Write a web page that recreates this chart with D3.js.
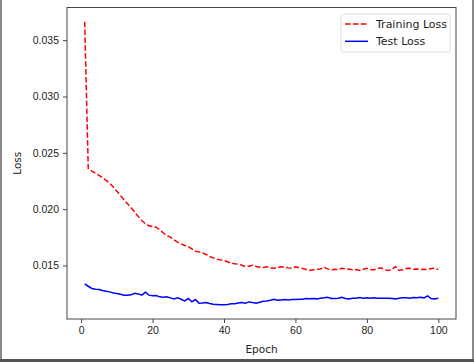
<!DOCTYPE html>
<html>
<head>
<meta charset="utf-8">
<script src="https://cdn.jsdelivr.net/npm/d3@7"></script>
<style>
  body { margin: 0; background: #fff; }
  svg { display: block; font-family: "DejaVu Sans", sans-serif; }
  .axis text { font-size: 10.5px; fill: #222; }
  .axis path, .axis line { stroke: #444; }
</style>
</head>
<body>
<div id="chart"></div>
<script>
// Loss per epoch
var epochs = d3.range(1, 101);

var trainLoss = [
  0.03664, 0.02358, 0.02338, 0.02320, 0.02300, 0.02279, 0.02255, 0.02231, 0.02196, 0.02160,
  0.02122, 0.02083, 0.02048, 0.02012, 0.01974, 0.01935, 0.01900, 0.01870, 0.01852, 0.01846,
  0.01840, 0.01817, 0.01790, 0.01766, 0.01752, 0.01728, 0.01707, 0.01692, 0.01678, 0.01669,
  0.01648, 0.01627, 0.01621, 0.01612, 0.01598, 0.01580, 0.01568, 0.01556, 0.01550, 0.01544,
  0.01533, 0.01521, 0.01515, 0.01512, 0.01503, 0.01491, 0.01494, 0.01503, 0.01491, 0.01485,
  0.01482, 0.01488, 0.01479, 0.01476, 0.01482, 0.01488, 0.01485, 0.01479, 0.01476, 0.01488,
  0.01482, 0.01473, 0.01464, 0.01456, 0.01462, 0.01467, 0.01470, 0.01485, 0.01470, 0.01462,
  0.01467, 0.01464, 0.01476, 0.01470, 0.01467, 0.01462, 0.01464, 0.01456, 0.01467, 0.01476,
  0.01464, 0.01462, 0.01473, 0.01479, 0.01462, 0.01456, 0.01462, 0.01491, 0.01456, 0.01462,
  0.01473, 0.01476, 0.01467, 0.01470, 0.01464, 0.01467, 0.01462, 0.01473, 0.01476, 0.01464
];

var testLoss = [
  0.01337, 0.01316, 0.01296, 0.01290, 0.01287, 0.01278, 0.01272, 0.01266, 0.01257, 0.01251,
  0.01245, 0.01237, 0.01237, 0.01240, 0.01254, 0.01248, 0.01237, 0.01263, 0.01237, 0.01231,
  0.01234, 0.01222, 0.01219, 0.01222, 0.01213, 0.01204, 0.01213, 0.01201, 0.01186, 0.01207,
  0.01177, 0.01198, 0.01166, 0.01168, 0.01171, 0.01163, 0.01157, 0.01154, 0.01151, 0.01151,
  0.01154, 0.01160, 0.01160, 0.01168, 0.01171, 0.01166, 0.01177, 0.01171, 0.01166, 0.01174,
  0.01183, 0.01186, 0.01192, 0.01201, 0.01192, 0.01195, 0.01198, 0.01195, 0.01198, 0.01198,
  0.01201, 0.01201, 0.01207, 0.01204, 0.01207, 0.01204, 0.01210, 0.01213, 0.01219, 0.01207,
  0.01207, 0.01210, 0.01219, 0.01207, 0.01204, 0.01210, 0.01210, 0.01216, 0.01210, 0.01213,
  0.01210, 0.01213, 0.01210, 0.01210, 0.01210, 0.01210, 0.01207, 0.01204, 0.01210, 0.01213,
  0.01213, 0.01210, 0.01216, 0.01213, 0.01219, 0.01213, 0.01231, 0.01207, 0.01204, 0.01210
];

var xTicks = [0, 20, 40, 60, 80, 100];
var yTicks = [0.015, 0.020, 0.025, 0.030, 0.035];

var W = 474, H = 362;
var margin = { top: 7.5, right: 18, bottom: 43, left: 67 };
var width = W - margin.left - margin.right,
    height = H - margin.top - margin.bottom;

var svg = d3.select("#chart").append("svg")
  .attr("width", W)
  .attr("height", H);

// picture frame around the screenshot
svg.append("rect").attr("x", 0).attr("y", 0).attr("width", 2).attr("height", H).attr("fill", "#8a8a8a");
svg.append("rect").attr("x", W - 2).attr("y", 0).attr("width", 2).attr("height", H).attr("fill", "#8a8a8a");
svg.append("rect").attr("x", 0).attr("y", H - 3).attr("width", W).attr("height", 3).attr("fill", "#555");

var g = svg.append("g")
  .attr("transform", "translate(" + margin.left + "," + margin.top + ")");

// matplotlib style 5% padding on both axes
var xPad = (d3.max(epochs) - d3.min(epochs)) * 0.05;
var x = d3.scaleLinear()
  .domain([d3.min(epochs) - xPad, d3.max(epochs) + xPad])
  .range([0, width]);

var yMin = d3.min(testLoss), yMax = d3.max(trainLoss);
var yPad = (yMax - yMin) * 0.05;
var y = d3.scaleLinear()
  .domain([yMin - yPad, yMax + yPad])
  .range([height, 0]);

g.append("g")
  .attr("class", "axis")
  .attr("transform", "translate(0," + height + ")")
  .call(d3.axisBottom(x).tickValues(xTicks).tickSize(4).tickPadding(4).tickFormat(d3.format("d")))
  .call(function(s) { s.select(".domain").remove(); });

g.append("g")
  .attr("class", "axis")
  .call(d3.axisLeft(y).tickValues(yTicks).tickSize(4).tickPadding(4).tickFormat(d3.format(".3f")))
  .call(function(s) { s.select(".domain").remove(); });

// axes frame
g.append("rect")
  .attr("width", width)
  .attr("height", height)
  .attr("fill", "none")
  .attr("stroke", "#444")
  .attr("stroke-width", 1);

var line = function(vals) {
  return d3.line()
    .x(function(d, i) { return x(epochs[i]); })
    .y(function(d) { return y(d); })(vals);
};

g.append("path")
  .attr("d", line(trainLoss))
  .attr("fill", "none")
  .attr("stroke", "#f00")
  .attr("stroke-width", 1.5)
  .attr("stroke-dasharray", "5.5,2.4");

g.append("path")
  .attr("d", line(testLoss))
  .attr("fill", "none")
  .attr("stroke", "#00f")
  .attr("stroke-width", 1.5);

// axis labels
svg.append("text")
  .attr("x", margin.left + width / 2)
  .attr("y", 353)
  .attr("text-anchor", "middle")
  .attr("font-size", 10.5)
  .attr("fill", "#222")
  .text("Epoch");

svg.append("text")
  .attr("transform", "translate(21," + (margin.top + height / 2) + ") rotate(-90)")
  .attr("text-anchor", "middle")
  .attr("font-size", 10.5)
  .attr("fill", "#222")
  .text("Loss");

// legend
var legend = svg.append("g").attr("transform", "translate(341,14)");
legend.append("rect")
  .attr("width", 109)
  .attr("height", 38)
  .attr("rx", 2.5)
  .attr("fill", "#fff")
  .attr("stroke", "#ddd");

var items = [
  { name: "Training Loss", color: "#f00", dash: "5.5,2.4" },
  { name: "Test Loss", color: "#00f", dash: null }
];

items.forEach(function(d, i) {
  var row = legend.append("g").attr("transform", "translate(0," + (10 + i * 17.3) + ")");
  row.append("line")
    .attr("x1", 4).attr("x2", 27)
    .attr("stroke", d.color)
    .attr("stroke-width", 1.5)
    .attr("stroke-dasharray", d.dash);
  row.append("text")
    .attr("x", 35)
    .attr("dy", "0.35em")
    .attr("font-size", 11)
    .attr("fill", "#222")
    .text(d.name);
});
</script>
</body>
</html>
